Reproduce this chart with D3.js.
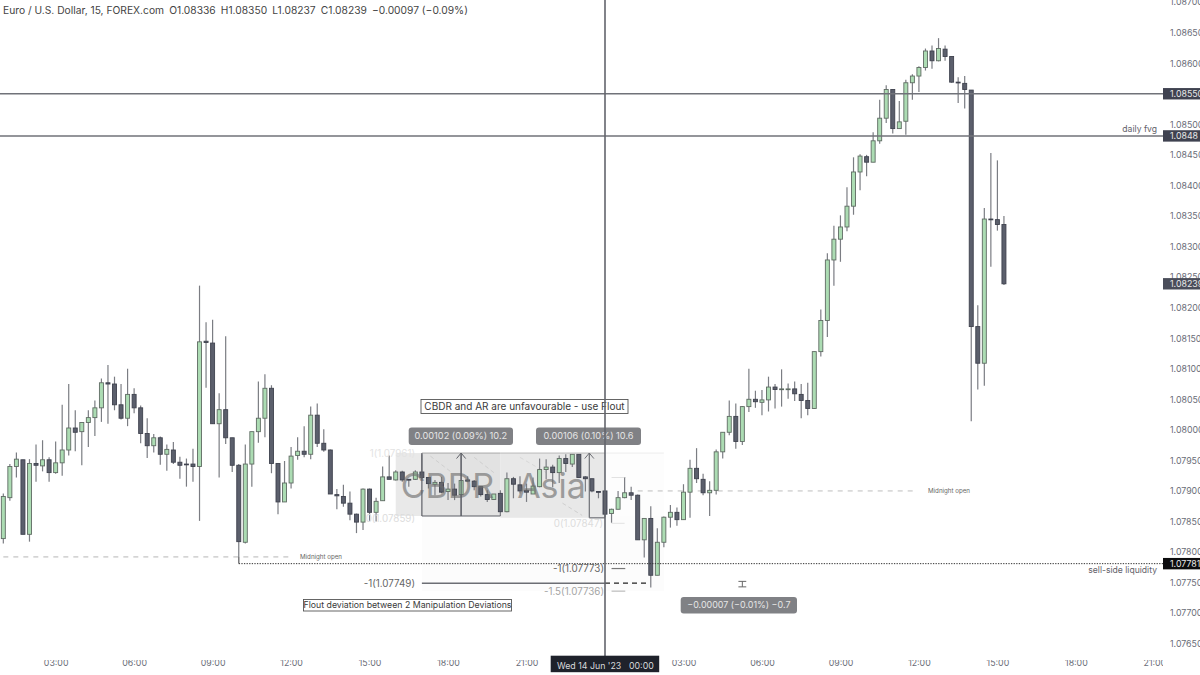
<!DOCTYPE html>
<html>

<head>
    <meta charset="utf-8">
    <style>
        html, body {
            margin: 0;
            padding: 0;
            background: #fff;
        }

        svg {
            display: block;
            font-family: Inter, 'Noto Sans', sans-serif;
        }

        .domain {
            display: none;
        }

        .axis text {
            fill: #6a6d78;
            font-size: 8.8px;
            font-family: Inter, 'Noto Sans', sans-serif;
        }
    </style>
</head>

<body>
    <svg width="1200" height="675"></svg>
</body>

<script src="https://d3js.org/d3.v7.min.js"></script>

<script>
    // bars are numbered from the crosshair candle (Wed 14 Jun 00:00), 15 min each
    let firstBar = -92

    let opens = [
        1.07822, 1.07889, 1.07940, 1.07951, 1.07829, 1.07945, 1.07941, 1.07951, 1.07930, 1.07946,
        1.07967, 1.08003, 1.07997, 1.08012, 1.08020, 1.08036, 1.08077, 1.08075, 1.08041, 1.08019,
        1.08058, 1.08036, 1.07994, 1.07974, 1.07987, 1.07960, 1.07967, 1.07947, 1.07944, 1.07944,
        1.07940, 1.08145, 1.08142, 1.08010, 1.08033, 1.07987, 1.07942, 1.07816, 1.07944, 1.07997,
        1.08019, 1.08068, 1.07945, 1.07882, 1.07913, 1.07958, 1.07965, 1.07960, 1.08024, 1.07978,
        1.07967, 1.07894, 1.07891, 1.07880, 1.07862, 1.07849, 1.07903, 1.07865, 1.07884, 1.07923,
        1.07918, 1.07931, 1.07919, 1.07919, 1.07931, 1.07922, 1.07911, 1.07914, 1.07899, 1.07903,
        1.07894, 1.07918, 1.07916, 1.07907, 1.07894, 1.07886, 1.07896, 1.07866, 1.07920, 1.07910,
        1.07901, 1.07895, 1.07907, 1.07935, 1.07939, 1.07930, 1.07953, 1.07944, 1.07960, 1.07923,
        1.07920, 1.07899,
        1.07900, 1.07863, 1.07870, 1.07889, 1.07897, 1.07893, 1.07820, 1.07855,
        1.07762, 1.07816, 1.07857, 1.07865, 1.07853, 1.07898, 1.07937, 1.07919, 1.07897, 1.07901,
        1.07964, 1.07996, 1.08022, 1.07981, 1.08038, 1.08050, 1.08045, 1.08049, 1.08070, 1.08066,
        1.08067, 1.08067, 1.08058, 1.08048, 1.08035, 1.08128, 1.08179, 1.08278, 1.08312, 1.08332,
        1.08366, 1.08422, 1.08447, 1.08438, 1.08473, 1.08510, 1.08557, 1.08493, 1.08505, 1.08568,
        1.08579, 1.08593, 1.08620, 1.08604, 1.08623, 1.08611, 1.08569, 1.08567, 1.08556, 1.08169,
        1.08109, 1.08345, 1.08344, 1.08336
    ]

    let highs = [
        1.07896, 1.07944, 1.07963, 1.07951, 1.07952, 1.07976, 1.07983, 1.07955, 1.07981, 1.08041,
        1.08075, 1.08032, 1.08012, 1.08032, 1.08048, 1.08084, 1.08106, 1.08087, 1.08075, 1.08100,
        1.08068, 1.08040, 1.08019, 1.07993, 1.07989, 1.07976, 1.07980, 1.07956, 1.07953, 1.07969,
        1.08236, 1.08176, 1.08180, 1.08060, 1.08153, 1.07987, 1.07944, 1.07976, 1.07997, 1.08079,
        1.08091, 1.08073, 1.07945, 1.07949, 1.07972, 1.07988, 1.08006, 1.08038, 1.08043, 1.08001,
        1.07968, 1.07903, 1.07910, 1.07899, 1.07863, 1.07904, 1.07904, 1.07889, 1.07940, 1.07958,
        1.07934, 1.07933, 1.07919, 1.07934, 1.07960, 1.07922, 1.07918, 1.07923, 1.07913, 1.07912,
        1.07960, 1.07924, 1.07918, 1.07907, 1.07901, 1.07895, 1.07901, 1.07930, 1.07923, 1.07924,
        1.07912, 1.07922, 1.07953, 1.07952, 1.07943, 1.07958, 1.07960, 1.07960, 1.07960, 1.07924,
        1.07920, 1.07899,
        1.07900, 1.07871, 1.07900, 1.07922, 1.07907, 1.07894, 1.07855, 1.07875,
        1.07839, 1.07858, 1.07877, 1.07873, 1.07911, 1.07951, 1.07970, 1.07928, 1.07916, 1.07968,
        1.07996, 1.08048, 1.08043, 1.08039, 1.08100, 1.08064, 1.08065, 1.08087, 1.08075, 1.08099,
        1.08076, 1.08079, 1.08075, 1.08077, 1.08128, 1.08197, 1.08289, 1.08334, 1.08351, 1.08397,
        1.08446, 1.08451, 1.08450, 1.08487, 1.08540, 1.08564, 1.08557, 1.08538, 1.08573, 1.08582,
        1.08595, 1.08624, 1.08629, 1.08641, 1.08629, 1.08611, 1.08577, 1.08579, 1.08556, 1.08204,
        1.08363, 1.08453, 1.08441, 1.08350
    ]

    let lows = [
        1.07814, 1.07884, 1.07922, 1.07829, 1.07817, 1.07915, 1.07932, 1.07915, 1.07928, 1.07925,
        1.07958, 1.07965, 1.07942, 1.07972, 1.07990, 1.08013, 1.08010, 1.08032, 1.08017, 1.08006,
        1.08027, 1.07978, 1.07954, 1.07963, 1.07943, 1.07933, 1.07944, 1.07920, 1.07907, 1.07915,
        1.07851, 1.08069, 1.08010, 1.07922, 1.07977, 1.07931, 1.07782, 1.07814, 1.07907, 1.07979,
        1.07988, 1.07929, 1.07862, 1.07882, 1.07904, 1.07951, 1.07955, 1.07952, 1.07972, 1.07964,
        1.07895, 1.07870, 1.07874, 1.07852, 1.07831, 1.07836, 1.07851, 1.07850, 1.07884, 1.07919,
        1.07917, 1.07915, 1.07907, 1.07918, 1.07919, 1.07904, 1.07893, 1.07896, 1.07885, 1.07885,
        1.07859, 1.07915, 1.07901, 1.07891, 1.07882, 1.07885, 1.07859, 1.07865, 1.07888, 1.07896,
        1.07882, 1.07895, 1.07906, 1.07919, 1.07906, 1.07913, 1.07931, 1.07939, 1.07922, 1.07899,
        1.07898, 1.07888,
        1.07857, 1.07848, 1.07870, 1.07888, 1.07885, 1.07820, 1.07791, 1.07742,
        1.07762, 1.07808, 1.07840, 1.07843, 1.07853, 1.07856, 1.07913, 1.07893, 1.07859, 1.07894,
        1.07953, 1.07991, 1.07969, 1.07975, 1.08029, 1.08036, 1.08024, 1.08030, 1.08035, 1.08038,
        1.08051, 1.08047, 1.08019, 1.08024, 1.08034, 1.08120, 1.08152, 1.08236, 1.08275, 1.08325,
        1.08352, 1.08392, 1.08415, 1.08438, 1.08468, 1.08502, 1.08485, 1.08493, 1.08483, 1.08540,
        1.08553, 1.08588, 1.08591, 1.08603, 1.08604, 1.08568, 1.08535, 1.08526, 1.08014, 1.08066,
        1.08072, 1.08267, 1.08326, 1.08237
    ]

    let closes = [
        1.07891, 1.07940, 1.07952, 1.07829, 1.07945, 1.07942, 1.07951, 1.07930, 1.07946, 1.07967,
        1.08003, 1.07996, 1.08012, 1.08020, 1.08036, 1.08077, 1.08075, 1.08041, 1.08019, 1.08058,
        1.08036, 1.07994, 1.07974, 1.07987, 1.07960, 1.07968, 1.07947, 1.07942, 1.07943, 1.07940,
        1.08144, 1.08143, 1.08010, 1.08033, 1.07987, 1.07942, 1.07817, 1.07944, 1.07997, 1.08019,
        1.08068, 1.07945, 1.07882, 1.07913, 1.07957, 1.07965, 1.07960, 1.08024, 1.07978, 1.07967,
        1.07895, 1.07892, 1.07880, 1.07862, 1.07849, 1.07903, 1.07865, 1.07883, 1.07923, 1.07919,
        1.07931, 1.07918, 1.07918, 1.07931, 1.07922, 1.07912, 1.07914, 1.07898, 1.07903, 1.07893,
        1.07917, 1.07916, 1.07907, 1.07894, 1.07886, 1.07895, 1.07866, 1.07920, 1.07911, 1.07900,
        1.07898, 1.07908, 1.07935, 1.07939, 1.07930, 1.07953, 1.07945, 1.07960, 1.07922, 1.07920,
        1.07900, 1.07898,
        1.07862, 1.07870, 1.07889, 1.07897, 1.07893, 1.07820, 1.07855, 1.07762,
        1.07816, 1.07857, 1.07865, 1.07853, 1.07898, 1.07937, 1.07920, 1.07897, 1.07901, 1.07964,
        1.07996, 1.08022, 1.07981, 1.08038, 1.08050, 1.08046, 1.08049, 1.08070, 1.08066, 1.08067,
        1.08067, 1.08059, 1.08048, 1.08035, 1.08128, 1.08179, 1.08278, 1.08312, 1.08332, 1.08366,
        1.08422, 1.08448, 1.08438, 1.08473, 1.08510, 1.08557, 1.08493, 1.08504, 1.08568, 1.08579,
        1.08593, 1.08620, 1.08604, 1.08624, 1.08611, 1.08569, 1.08568, 1.08557, 1.08169, 1.08109,
        1.08345, 1.08344, 1.08336, 1.08239
    ]

    let priceTicks = [1.0765, 1.0770, 1.0775, 1.0780, 1.0785, 1.0790, 1.0795, 1.0800, 1.0805, 1.0810,
        1.0815, 1.0820, 1.0825, 1.0830, 1.0835, 1.0840, 1.0845, 1.0850, 1.0855, 1.0860, 1.0865, 1.0870]

    let timeTickBars = [-84, -72, -60, -48, -36, -24, -12, 12, 24, 36, 48, 60, 72, 84]
    let timeTickLabels = ["03:00", "06:00", "09:00", "12:00", "15:00", "18:00", "21:00",
        "03:00", "06:00", "09:00", "12:00", "15:00", "18:00", "21:00"]

    let headerText = "Euro / U.S. Dollar, 15, FOREX.com\u2002O1.08336\u2002H1.08350\u2002L1.08237\u2002C1.08239\u2002\u22120.00097 (\u22120.09%)"

    let width = 1200
    let height = 675
    let paneRight = 1163

    let svg = d3.select("svg")

    let x = d3.scaleLinear()
        .domain([firstBar, 84])
        .range([605 - 92 * 6.54, 605 + 84 * 6.54])

    let y = d3.scaleLinear()
        .domain([1.0765, 1.0870])
        .range([643.7, 2.1])

    let bars = opens.map((o, i) => ({
        bar: firstBar + i, open: o, high: highs[i], low: lows[i], close: closes[i]
    }))

    svg.append("defs").append("clipPath").attr("id", "pane")
        .append("rect").attr("width", paneRight).attr("height", height)

    // ---- faint fib leftovers sitting under the candles
    function rect(b0, b1, p0, p1, fill) {
        return svg.append("rect")
            .attr("x", x(b0)).attr("width", x(b1) - x(b0))
            .attr("y", y(p0)).attr("height", y(p1) - y(p0))
            .style("fill", fill)
    }

    function line(b0, p0, b1, p1, color, w, dash) {
        return svg.append("line")
            .attr("x1", x(b0)).attr("y1", y(p0))
            .attr("x2", x(b1)).attr("y2", y(p1))
            .style("stroke", color)
            .style("stroke-width", w)
            .style("stroke-dasharray", dash || null)
    }

    function label(px, py, txt, size, color, anchor) {
        return svg.append("text")
            .attr("x", px).attr("y", py)
            .attr("dy", "0.35em")
            .attr("text-anchor", anchor || "start")
            .style("font-size", size + "px")
            .style("fill", color)
            .text(txt)
    }

    rect(-28, 9, 1.07859, 1.07736, "#fcfcfc")
    rect(0, 9, 1.07962, 1.07859, "#fdfdfd")

    rect(-32, -16, 1.07962, 1.07859, "#e9e9e9")
    rect(-28, -16, 1.07962, 1.07859, "#e2e2e2")
    rect(-16, 0, 1.07962, 1.07856, "#e8e8e8")

    // faint dashed diagonals of the two ranges
    line(-26.7, 1.07957, -23.4, 1.07930, "#cfcfcf", 1, "4,3")
    line(-20, 1.07955, -17, 1.07930, "#cfcfcf", 1, "4,3")
    line(-6.5, 1.07880, -3.5, 1.07860, "#cfcfcf", 1, "4,3")
    line(-13, 1.07955, -9, 1.07930, "#d8d8d8", 1, "4,3")

    line(0, 1.07962, 9, 1.07962, "#ededed", 1)
    line(1, 1.07922, 3.2, 1.07922, "#e2e2e2", 1)
    line(1, 1.07847, 3, 1.07847, "#e2e2e2", 1)

    // ---- midnight opens, sell side liquidity
    line(firstBar, 1.07792, -48, 1.07792, "#b5b5b5", 1, "5,5")
    line(5, 1.0790, 47.5, 1.0790, "#bdbdbd", 1, "5,5")
    label(300, y(1.07792), "Midnight open", 6.2, "#666")
    label(928, y(1.0790), "Midnight open", 6.2, "#666")

    // ---- candles
    let candles = svg.append("g").selectAll("g")
        .data(bars)
        .join("g")
        .attr("transform", d => `translate(${x(d.bar)},0)`)

    candles.append("line")
        .attr("y1", d => y(d.high))
        .attr("y2", d => y(d.low))
        .style("stroke", "#7b7d83")
        .style("stroke-width", 1.2)

    candles.append("rect")
        .attr("x", -2)
        .attr("width", 4)
        .attr("y", d => y(Math.max(d.open, d.close)))
        .attr("height", d => Math.max(0.8, Math.abs(y(d.open) - y(d.close))))
        .style("fill", d => d.close >= d.open ? "#acdcb3" : "#5b5f6c")
        .style("stroke", d => d.close >= d.open ? "#5f6b63" : "#3f424e")
        .style("stroke-width", 0.9)

    // ---- big session names
    label(447.5, 486, "CBDR", 34, "#6d6d6d", "middle").style("opacity", 0.62)
    label(551.5, 486, "Asia", 34, "#6d6d6d", "middle").style("opacity", 0.62)

    // ---- measure tools
    line(-28, 1.07962, -16, 1.07962, "#a8a8a8", 1)
    line(-28, 1.07962, -28, 1.07859, "#5d5f66", 1.2)
    line(-28, 1.07859, -16, 1.07859, "#5d5f66", 1.2)
    line(-22, 1.07962, -22, 1.07859, "#5d5f66", 1.2)
    line(-22.7, 1.07953, -22, 1.07962, "#5d5f66", 1)
    line(-21.3, 1.07953, -22, 1.07962, "#5d5f66", 1)

    line(-16, 1.07962, 0, 1.07962, "#b8b8b8", 1)
    line(-2.4, 1.07962, -2.4, 1.07856, "#6d6f75", 1.2)
    line(-2.4, 1.07856, 0, 1.07856, "#6d6f75", 1.2)
    line(-3.1, 1.07953, -2.4, 1.07962, "#6d6f75", 1)
    line(-1.7, 1.07953, -2.4, 1.07962, "#6d6f75", 1)

    // ---- deviation levels
    line(-28, 1.07749, 0, 1.07749, "#6c6e74", 1.4)
    line(0, 1.07749, 6.6, 1.07749, "#222", 1.2, "5,4")
    line(1, 1.07773, 3.1, 1.07773, "#777", 1.2)
    line(1, 1.07736, 3.1, 1.07736, "#bbb", 1.2)

    label(415, y(1.07749), "-1(1.07749)", 9.8, "#666", "end")
    label(604, y(1.07773), "-1(1.07773)", 9.8, "#666", "end")
    label(604, y(1.07736), "-1.5(1.07736)", 9.8, "#a5a5a5", "end")
    label(415, y(1.07961), "1(1.07961)", 9.8, "#e3e3e3", "end")
    label(415, y(1.07859) + 3, "0(1.07859)", 9.8, "#dcdcdc", "end")
    label(603, y(1.07847), "0(1.07847)", 9.8, "#dcdcdc", "end")

    // small I marker above the last pill
    line(20.4, 1.07752, 21.6, 1.07752, "#666", 1)
    line(20.4, 1.07743, 21.6, 1.07743, "#666", 1)
    line(21, 1.07752, 21, 1.07743, "#666", 1)

    // ---- sell side line, fvg lines
    line(-56, 1.07792, -56, 1.07781, "#777", 1)
    svg.append("line")
        .attr("x1", x(-56)).attr("x2", paneRight)
        .attr("y1", y(1.07781)).attr("y2", y(1.07781))
        .style("stroke", "#333")
        .style("stroke-width", 1)
        .style("stroke-dasharray", "1.3,1.3")

    svg.selectAll(".level")
        .data([1.08550, 1.08481])
        .join("line")
        .attr("class", "level")
        .attr("x1", 0).attr("x2", paneRight)
        .attr("y1", y).attr("y2", y)
        .style("stroke", "#707279")
        .style("stroke-width", 1.5)

    label(1157, 129, "daily fvg", 8.6, "#5f6169", "end")
    label(1157, 570, "sell-side liquidity", 8.6, "#5f6169", "end")

    // ---- note boxes and pills
    function note(x0, x1, y0, y1, txt, size) {
        svg.append("rect")
            .attr("x", x0).attr("y", y0)
            .attr("width", x1 - x0).attr("height", y1 - y0)
            .style("fill", "#fff").style("stroke", "#555").style("stroke-width", 0.9)
        label((x0 + x1) / 2, (y0 + y1) / 2, txt, size, "#3a3a3a", "middle")
    }

    function pill(x0, x1, y0, y1, txt, size) {
        svg.append("rect")
            .attr("x", x0).attr("y", y0)
            .attr("width", x1 - x0).attr("height", y1 - y0)
            .attr("rx", 3)
            .style("fill", "#808185")
        label((x0 + x1) / 2, (y0 + y1) / 2, txt, size, "#e6e6e6", "middle")
    }

    note(421, 628, 399.5, 413.5, "CBDR and AR are unfavourable - use Flout", 10)
    note(303.5, 511.5, 599.5, 611, "Flout deviation between 2 Manipulation Deviations", 8.75)
    pill(408.7, 513, 427.5, 445, "0.00102 (0.09%) 10.2", 9.2)
    pill(536, 641, 427.5, 445, "0.00106 (0.10%) 10.6", 9.2)
    pill(680.7, 797, 597, 613.5, "\u22120.00007 (\u22120.01%) \u22120.7", 8.95)

    // ---- crosshair
    svg.append("line")
        .attr("x1", x(0)).attr("x2", x(0))
        .attr("y1", 0).attr("y2", 656)
        .style("stroke", "#63656c")
        .style("stroke-width", 1.6)

    // ---- axes
    let priceAxis = d3.axisRight(y)
        .tickValues(priceTicks)
        .tickSize(0)
        .tickPadding(7)
        .tickFormat(d3.format(".5f"))

    svg.append("g")
        .attr("class", "axis")
        .attr("transform", `translate(${paneRight},0)`)
        .call(priceAxis)

    let timeAxis = d3.axisBottom(x)
        .tickValues(timeTickBars)
        .tickSize(0)
        .tickPadding(0)
        .tickFormat((d, i) => timeTickLabels[i])

    svg.append("g")
        .attr("class", "axis")
        .attr("clip-path", "url(#pane)")
        .attr("transform", "translate(0,660)")
        .call(timeAxis)

    // price tags on the scale
    function tag(price, txt, fill) {
        svg.append("rect")
            .attr("x", paneRight).attr("width", width - paneRight)
            .attr("y", y(price) - 5.7).attr("height", 11.4)
            .style("fill", fill)
        label(1170, y(price), txt, 8.8, "#e8e8e8")
    }

    tag(1.08550, "1.08550", "#3f4250")
    tag(1.08481, "1.0848", "#3f4250")
    tag(1.08239, "1.08239", "#4a4d5a")
    tag(1.07781, "1.07781", "#0c0c0e")

    // crosshair time tag
    svg.append("rect")
        .attr("x", 550.7).attr("y", 655.7)
        .attr("width", 108.5).attr("height", 16.5)
        .style("fill", "#1f222b")
    label(557, 665.5, "Wed 14 Jun '23", 8.8, "#d8d9dc")
    label(629, 665.5, "00:00", 8.8, "#d8d9dc")

    label(3, 10, headerText, 10.25, "#444")
</script>

</html>
